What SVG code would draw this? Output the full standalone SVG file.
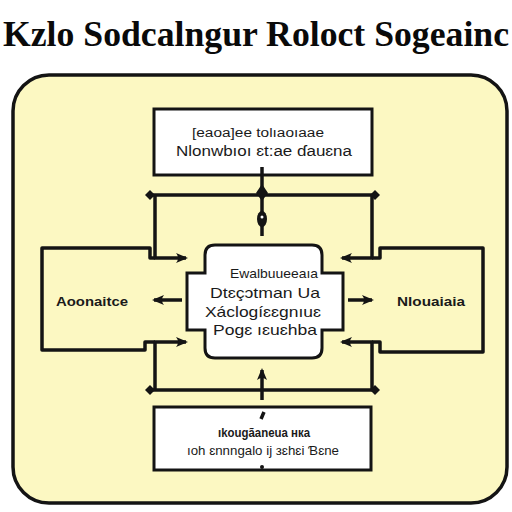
<svg xmlns="http://www.w3.org/2000/svg" width="512" height="512" viewBox="0 0 512 512">
<style>
.box{fill:#ffffff;stroke:#141414;stroke-width:3}
.ln{fill:none;stroke:#141414;stroke-width:3.5;stroke-linejoin:round}
.blob{fill:#141414}
.t{font-family:"Liberation Sans",Arial,sans-serif;fill:#1a1a1a;text-anchor:middle}
.title{font-family:"Liberation Serif","Times New Roman",serif;font-weight:bold;font-size:36px;fill:#0a0a0a}
</style>
<defs>
<marker id="ah" viewBox="0 0 12 10" refX="10" refY="5" markerWidth="12" markerHeight="10" markerUnits="userSpaceOnUse" orient="auto">
<path d="M0,0 Q4,5 0,10 L12,5 Z" fill="#141414"/>
</marker>
<marker id="dot" viewBox="0 0 10 10" refX="5" refY="5" markerWidth="10" markerHeight="10" markerUnits="userSpaceOnUse" orient="auto">
<path d="M5,0 L10,5 L5,10 L0,5 Z" fill="#141414"/>
</marker>
</defs>
<rect width="512" height="512" fill="#ffffff"/>
<text class="title" x="3" y="46" textLength="506" lengthAdjust="spacingAndGlyphs">Kzlo Sodcalngur Roloct Sogeainc</text>
<g id="frame">
<rect x="13" y="75" width="494" height="428" rx="36" fill="#fcf8c2" stroke="#141414" stroke-width="3.5"/>
</g>
<g id="connectors">
<path class="ln" d="M150,195 H375" marker-start="url(#dot)" marker-end="url(#dot)"/>
<path class="ln" d="M150,390 H375" marker-start="url(#dot)" marker-end="url(#dot)"/>
<path class="ln" d="M262,176 V236"/>
<path class="blob" d="M262,184 L268,193 L262,201 L256,193 Z"/>
<ellipse class="blob" cx="262" cy="219" rx="5" ry="8"/>
<circle cx="262" cy="217" r="1.5" fill="#ffffff"/>
<path class="ln" d="M155,195 V258 H186" marker-end="url(#ah)"/>
<path class="ln" d="M372,195 V258 H342" marker-end="url(#ah)"/>
<path class="ln" d="M155,390 V342 H186" marker-end="url(#ah)"/>
<path class="ln" d="M372,390 V342 H342" marker-end="url(#ah)"/>
<path class="ln" d="M262,400 V370" marker-end="url(#ah)"/>
<path class="ln" d="M182,300 H154" marker-end="url(#ah)"/>
<path class="ln" d="M348,300 H372" marker-end="url(#ah)"/>
</g>
<g id="left-node">
<path class="ln" d="M155,258 H150 V248 H42 V350 H145 V342 H155" fill="none"/>
<text class="t" x="92" y="306" font-size="13" font-weight="bold" textLength="72" lengthAdjust="spacingAndGlyphs">Aoonaitce</text>
</g>
<g id="right-node">
<path class="ln" d="M372,258 H380 V248 H483 V352 H380 V342 H372" fill="none"/>
<text class="t" x="431" y="306" font-size="13" font-weight="bold" textLength="68" lengthAdjust="spacingAndGlyphs">Nlouaiaia</text>
</g>
<g id="top-node">
<rect class="box" x="154" y="109" width="218" height="66"/>
<path class="ln" d="M262,167 V175"/>
<text class="t" x="258" y="137" font-size="12" textLength="132" lengthAdjust="spacingAndGlyphs">[eaoa]ee tolıaoıaae</text>
<text class="t" x="264" y="156" font-size="14" textLength="176" lengthAdjust="spacingAndGlyphs">Nlonwbıoı ɛt:ae ɗauɛna</text>
</g>
<g id="center-node">
<path class="box" d="M215,245 H312 Q322,245 322,255 V273 H343 V330 H322 V348 Q322,358 312,358 H215 Q205,358 205,348 V330 H187 V273 H205 V255 Q205,245 215,245 Z"/>
<text class="t" x="274" y="278" font-size="13" textLength="88" lengthAdjust="spacingAndGlyphs">Ewalbuueeaıa</text>
<text class="t" x="265" y="298" font-size="15" textLength="110" lengthAdjust="spacingAndGlyphs">Dtɛçɔtman Ua</text>
<text class="t" x="263" y="317" font-size="15" textLength="116" lengthAdjust="spacingAndGlyphs">Xáclogíɛɛgnıuɛ</text>
<text class="t" x="265" y="335" font-size="15" textLength="104" lengthAdjust="spacingAndGlyphs">Pogɛ ıɛuɛhba</text>
</g>
<g id="bottom-node">
<rect class="box" x="154" y="407" width="217" height="63"/>
<path class="ln" d="M264,412 L261,419" stroke-width="2"/>
<circle class="blob" cx="262" cy="467" r="2"/>
<text class="t" x="264" y="437" font-size="12" font-weight="bold" textLength="92" lengthAdjust="spacingAndGlyphs">ıkougãaneua нка</text>
<text class="t" x="263" y="455" font-size="13" textLength="152" lengthAdjust="spacingAndGlyphs">ıoh ɛnnngalo ij зɛhɛi Ɓɛne</text>
</g>
</svg>
